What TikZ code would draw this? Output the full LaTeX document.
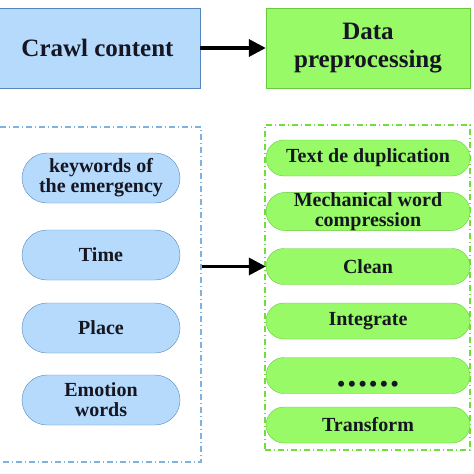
\documentclass[tikz,border=0pt]{standalone}
\usepackage{fontspec}
\setmainfont{Liberation Serif}
\usetikzlibrary{shapes.misc, positioning, arrows.meta}
\definecolor{blueFill}{RGB}{181,218,252}
\definecolor{blueLine}{RGB}{86,134,190}
\definecolor{blueDash}{RGB}{128,178,222}
\definecolor{greenFill}{RGB}{152,250,102}
\definecolor{greenLine}{RGB}{104,200,62}
\definecolor{greenDash}{RGB}{110,222,60}
\definecolor{textCol}{RGB}{22,22,34}

\begin{document}
\begin{tikzpicture}[
    x=1pt, y=-1pt,
    every node/.style={text=textCol, font=\bfseries},
    head/.style={rectangle, draw, align=center, minimum height=80pt,
        font=\bfseries\fontsize{25}{28}\selectfont},
    frame/.style={rectangle, draw, line width=1.2pt, dash pattern=on 6pt off 3pt on 1pt off 3pt},
    bluepill/.style={rounded rectangle, draw=blueLine, fill=blueFill, align=center,
        minimum width=158pt, minimum height=50pt, inner sep=0pt,
        font=\bfseries\fontsize{20}{20}\selectfont},
    greenpill/.style={rounded rectangle, draw=greenLine, fill=greenFill, align=center,
        minimum width=204pt, minimum height=36pt, inner sep=0pt,
        font=\bfseries\fontsize{20}{20}\selectfont},
    arrow/.style={-{Triangle[length=17pt, width=17pt]}, line width=3.5pt, black}
]
    \useasboundingbox (0,0) rectangle (474,474);
    % top row
    \node[head, fill=blueFill, draw=blueLine, minimum width=205pt] (crawl) at (97.5,48) {Crawl content};
    \node[head, fill=greenFill, draw=greenLine, minimum width=204pt] (prep) at (368,48) {Data\\preprocessing};
    \draw[arrow] (crawl) -- (prep);

    % dashed frames
    \node[frame, draw=blueDash, minimum width=211pt, minimum height=335pt] (lframe) at (95.5,294.5) {};
    \node[frame, draw=greenDash, minimum width=205pt, minimum height=325pt] (rframe) at (367.5,287.5) {};

    % crawled items
    \node[bluepill] (kw) at (101,178) {keywords of\\the emergency};
    \node[bluepill] (time) at (101,255) {Time};
    \node[bluepill] (place) at (101,328) {Place};
    \node[bluepill] (emo) at (101,400) {Emotion\\words};

    % preprocessing steps
    \node[greenpill] (dedup) at (368,158) {Text de duplication};
    \node[greenpill] (mech) at (368,211.5) {Mechanical word\\compression};
    \node[greenpill] (clean) at (368,266.5) {Clean};
    \node[greenpill] (integ) at (368,321) {Integrate};
    \node[greenpill] (dots) at (368,375.5) {\raisebox{-16pt}[0pt][0pt]{\fontsize{22}{22}\selectfont •\hspace{3pt}•\hspace{3pt}•\hspace{3pt}•\hspace{3pt}•\hspace{3pt}•}};
    \node[greenpill] (trans) at (368,425) {Transform};

    \draw[arrow] (lframe.east |- clean) -- (clean.west);
\end{tikzpicture}
\end{document}
